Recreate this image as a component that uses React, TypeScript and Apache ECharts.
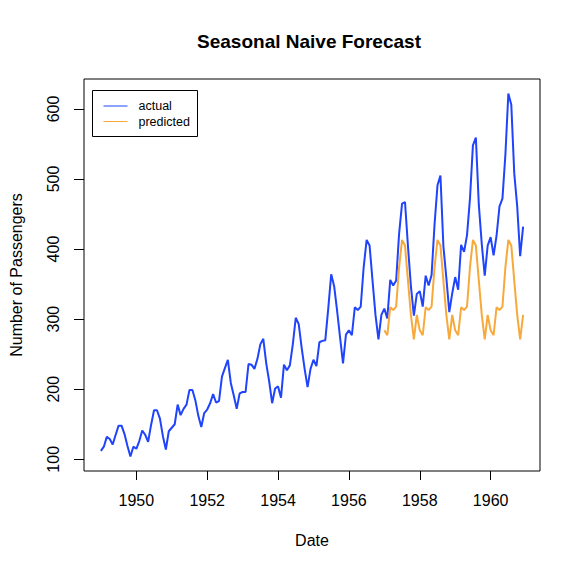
import React, { useEffect, useRef } from "react";
import * as echarts from "echarts";

// Monthly airline passengers (thousands), Jan 1949 – Dec 1960
const actualByYear: number[][] = [
  [112, 118, 132, 129, 121, 135, 148, 148, 136, 119, 104, 118],
  [115, 126, 141, 135, 125, 149, 170, 170, 158, 133, 114, 140],
  [145, 150, 178, 163, 172, 178, 199, 199, 184, 162, 146, 166],
  [171, 180, 193, 181, 183, 218, 230, 242, 209, 191, 172, 194],
  [196, 196, 236, 235, 229, 243, 264, 272, 237, 211, 180, 201],
  [204, 188, 235, 227, 234, 264, 302, 293, 259, 229, 203, 229],
  [242, 233, 267, 269, 270, 315, 364, 347, 312, 274, 237, 278],
  [284, 277, 317, 313, 318, 374, 413, 405, 355, 306, 271, 306],
  [315, 301, 356, 348, 355, 422, 465, 467, 404, 347, 305, 336],
  [340, 318, 362, 348, 363, 435, 491, 505, 404, 359, 310, 337],
  [360, 342, 406, 396, 420, 472, 548, 559, 463, 407, 362, 405],
  [417, 391, 419, 461, 472, 535, 622, 606, 508, 461, 390, 432],
];
const startYear = 1949;

// Seasonal naive forecast for 1957–1960: each month repeats the 1956 value
const forecastStartYear = 1957;
const predictedByYear: number[][] = [
  [284, 277, 317, 313, 318, 374, 413, 405, 355, 306, 271, 306],
  [284, 277, 317, 313, 318, 374, 413, 405, 355, 306, 271, 306],
  [284, 277, 317, 313, 318, 374, 413, 405, 355, 306, 271, 306],
  [284, 277, 317, 313, 318, 374, 413, 405, 355, 306, 271, 306],
];

const xTicks = [1950, 1952, 1954, 1956, 1958, 1960];
const yTicks = [100, 200, 300, 400, 500, 600];

const toPoints = (rows: number[][], firstYear: number) =>
  rows.flatMap((row, yi) => row.map((v, m) => [firstYear + yi + m / 12, v]));

const actualPoints = toPoints(actualByYear, startYear);
const predictedPoints = toPoints(predictedByYear, forecastStartYear);

const BLUE = "#1f44fb";
const ORANGE = "#f7a93b";
const FONT = "Liberation Sans, Arial, Helvetica, sans-serif";

export default function App() {
  const ref = useRef<HTMLDivElement>(null);

  useEffect(() => {
    if (!ref.current) return;
    const chart = echarts.init(ref.current, null, { renderer: "svg" });

    // 4% padding on each side of the data range, as in base R plots
    const xs = actualPoints.map((p) => p[0]);
    const ys = [...actualPoints, ...predictedPoints].map((p) => p[1]);
    const xMin = Math.min(...xs), xMax = Math.max(...xs);
    const yMin = Math.min(...ys), yMax = Math.max(...ys);
    const xPad = (xMax - xMin) * 0.04;
    const yPad = (yMax - yMin) * 0.04;

    chart.setOption({
      animation: false,
      backgroundColor: "#ffffff",
      textStyle: { fontFamily: FONT },
      grid: {
        left: 79,
        right: 40,
        top: 79,
        bottom: 99,
        show: true,
        borderColor: "#000",
        borderWidth: 1,
        backgroundColor: "transparent",
      },
      xAxis: {
        type: "value",
        min: xMin - xPad,
        max: xMax + xPad,
        name: "Date",
        nameLocation: "middle",
        nameGap: 61,
        nameTextStyle: { fontSize: 16, color: "#000", fontFamily: FONT },
        axisLine: { show: false },
        axisTick: {
          show: true,
          length: 9,
          customValues: xTicks,
          lineStyle: { color: "#000" },
        },
        axisLabel: {
          customValues: xTicks,
          formatter: (v: number) => String(v),
          margin: 21,
          fontSize: 16,
          color: "#000",
          fontFamily: FONT,
        },
        splitLine: { show: false },
      },
      yAxis: {
        type: "value",
        min: yMin - yPad,
        max: yMax + yPad,
        name: "Number of Passengers",
        nameLocation: "middle",
        nameGap: 60,
        nameTextStyle: { fontSize: 16, color: "#000", fontFamily: FONT },
        axisLine: { show: false },
        axisTick: {
          show: true,
          length: 10,
          customValues: yTicks,
          lineStyle: { color: "#000" },
        },
        axisLabel: {
          customValues: yTicks,
          formatter: (v: number) => String(v),
          rotate: 90,
          margin: 23,
          fontSize: 16,
          color: "#000",
          fontFamily: FONT,
        },
        splitLine: { show: false },
      },
      graphic: [
        {
          type: "text",
          x: 309,
          y: 41.5,
          style: {
            text: "Seasonal Naive Forecast",
            fontSize: 19,
            fontWeight: "bold",
            fill: "#000",
            fontFamily: FONT,
            align: "center",
            verticalAlign: "middle",
          },
        },
        {
          type: "group",
          left: 92,
          top: 90,
          children: [
            {
              type: "rect",
              shape: { x: 0, y: 0, width: 105, height: 46 },
              style: { fill: "#fff", stroke: "#000", lineWidth: 1 },
            },
            {
              type: "line",
              shape: { x1: 11, y1: 15.5, x2: 35, y2: 15.5 },
              style: { stroke: BLUE, lineWidth: 1 },
            },
            {
              type: "line",
              shape: { x1: 11, y1: 31, x2: 35, y2: 31 },
              style: { stroke: ORANGE, lineWidth: 1 },
            },
            {
              type: "text",
              x: 46,
              y: 15.5,
              style: { text: "actual", fontSize: 12.5, fill: "#000", fontFamily: FONT, verticalAlign: "middle" },
            },
            {
              type: "text",
              x: 46,
              y: 31,
              style: { text: "predicted", fontSize: 12.5, fill: "#000", fontFamily: FONT, verticalAlign: "middle" },
            },
          ],
        },
      ],
      series: [
        {
          name: "actual",
          type: "line",
          data: actualPoints,
          showSymbol: false,
          lineStyle: { color: BLUE, width: 2 },
          itemStyle: { color: BLUE },
        },
        {
          name: "predicted",
          type: "line",
          data: predictedPoints,
          showSymbol: false,
          lineStyle: { color: ORANGE, width: 2 },
          itemStyle: { color: ORANGE },
        },
      ],
    });

    return () => chart.dispose();
  }, []);

  return (
    <div
      ref={ref}
      style={{ position: "absolute", left: 0, top: 0, width: 580, height: 570 }}
    />
  );
}
